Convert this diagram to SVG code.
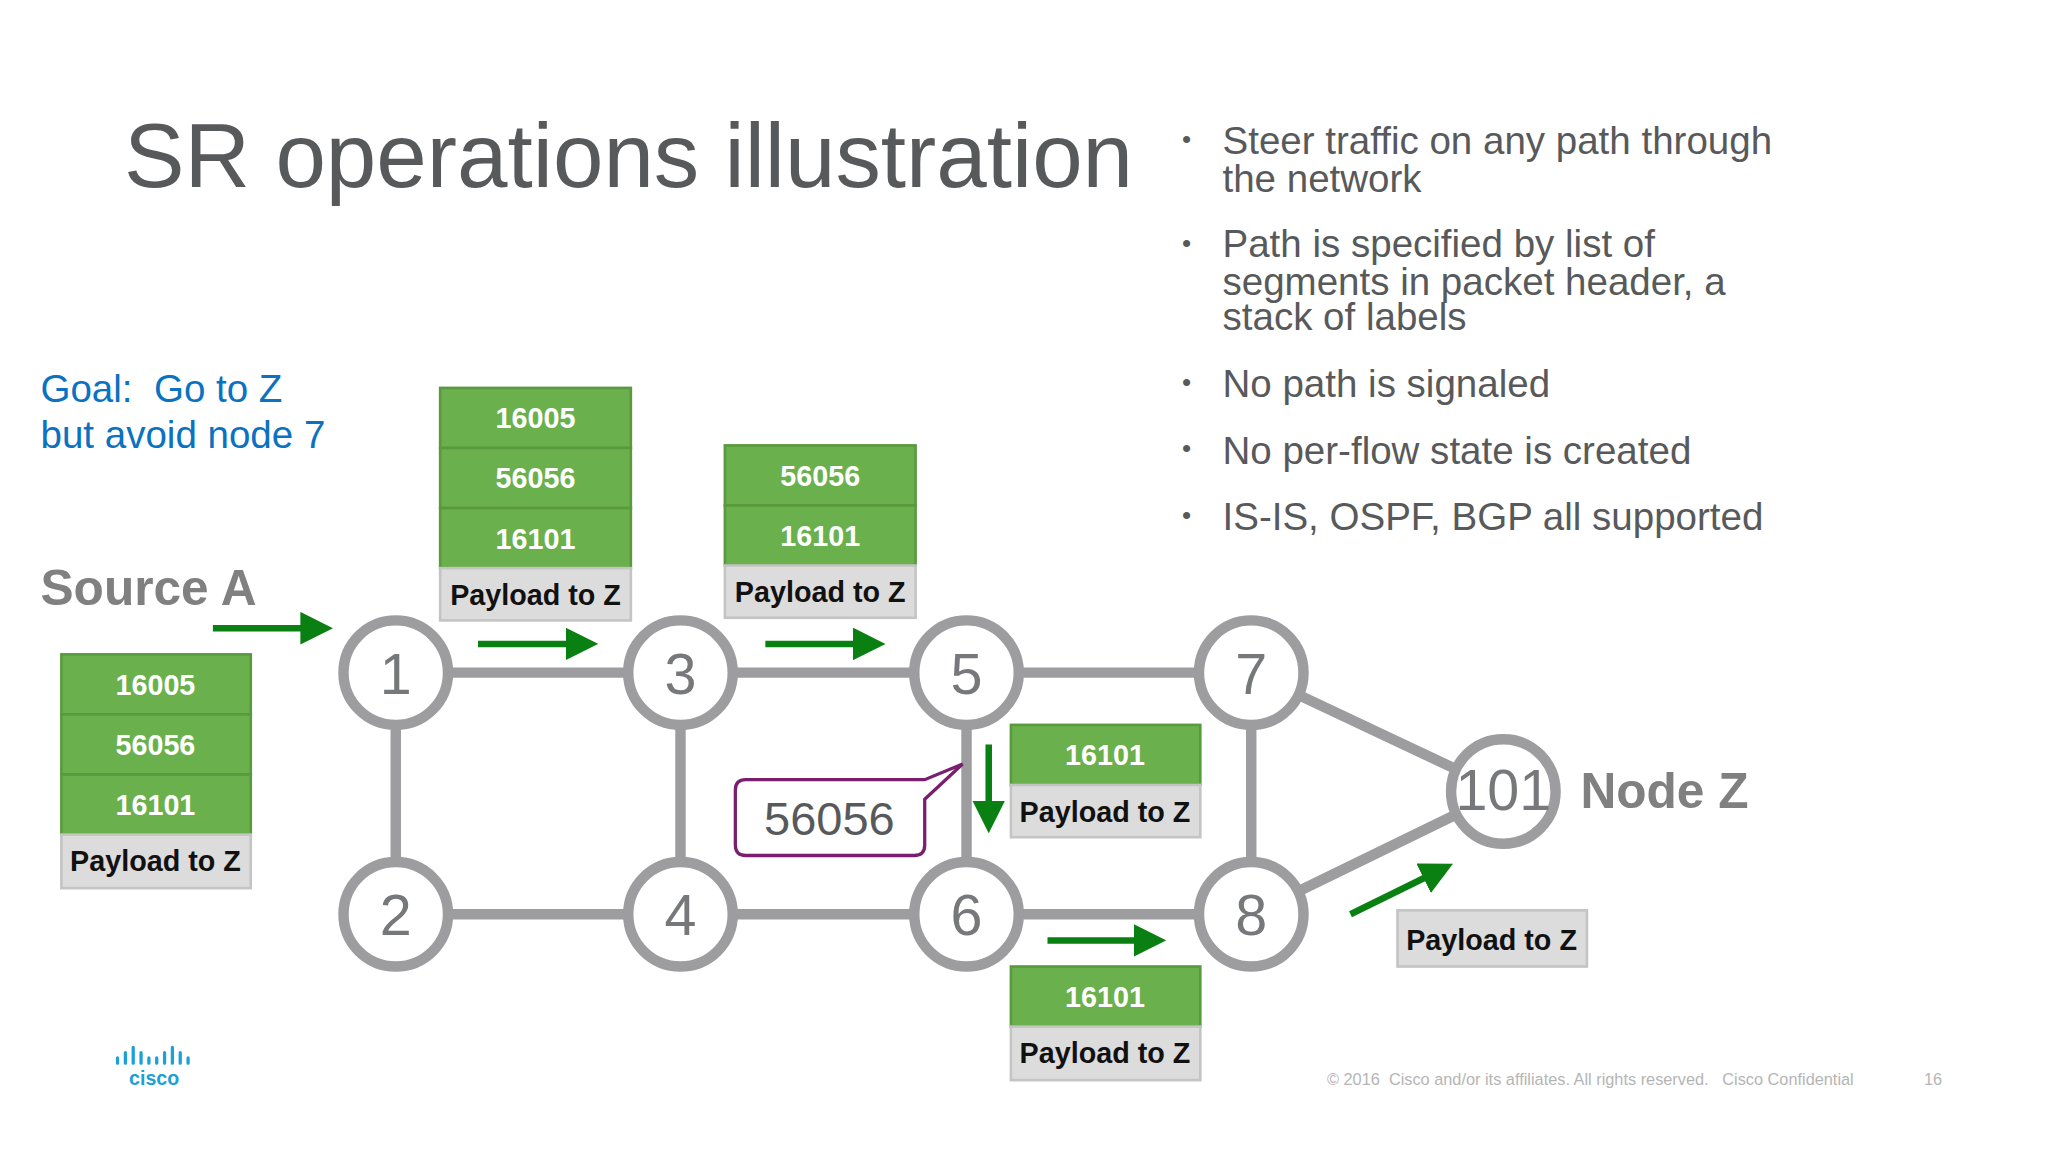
<svg xmlns="http://www.w3.org/2000/svg" width="2048" height="1152" viewBox="0 0 2048 1152">
<style>
.g{fill:#6ab04c;stroke:#5a9a3e;stroke-width:2}
.p{fill:#dcdcdc;stroke:#c4c4c4;stroke-width:2}
.lt{font-family:"Liberation Sans",Arial,sans-serif;font-weight:bold;font-size:22px;fill:#fff;text-anchor:middle}
.pt{font-family:"Liberation Sans",Arial,sans-serif;font-weight:bold;font-size:22px;fill:#111;text-anchor:middle}
.n circle{fill:#fff;stroke:#9d9d9f;stroke-width:8}
.nt{font-family:"Liberation Sans",Arial,sans-serif;font-size:44px;fill:#77787b;text-anchor:middle}
.link{stroke:#9d9d9f;stroke-width:8;fill:none}
.arr{stroke:#0a7f12;stroke-width:5;fill:none;marker-end:url(#ah)}
.b{font-family:"Liberation Sans",Arial,sans-serif;font-size:29.5px;fill:#58595b}
</style>
<defs><marker id="ah" markerWidth="5" markerHeight="5" refX="2" refY="2.5" orient="auto" markerUnits="strokeWidth"><path d="M0,0 L5,2.5 L0,5 z" fill="#0a7f12"/></marker></defs>
<rect width="2048" height="1152" fill="#fff"/>
<g transform="scale(1.3061)">
<text x="95" y="143" font-family="Liberation Sans,Arial,sans-serif" font-size="69.5" fill="#58595b">SR operations illustration</text>
<g class="b">
<text x="905" y="113" font-size="20">•</text><text x="936" y="118">Steer traffic on any path through</text><text x="936" y="147">the network</text>
<text x="905" y="193" font-size="20">•</text><text x="936" y="197">Path is specified by list of</text><text x="936" y="226">segments in packet header, a</text><text x="936" y="253">stack of labels</text>
<text x="905" y="299" font-size="20">•</text><text x="936" y="304">No path is signaled</text>
<text x="905" y="350" font-size="20">•</text><text x="936" y="355">No per-flow state is created</text>
<text x="905" y="401" font-size="20">•</text><text x="936" y="406">IS-IS, OSPF, BGP all supported</text>
</g>
<text x="31" y="308" font-family="Liberation Sans,Arial,sans-serif" font-size="29.5" fill="#0a72c0" xml:space="preserve">Goal:  Go to Z</text>
<text x="31" y="343" font-family="Liberation Sans,Arial,sans-serif" font-size="29.5" fill="#0a72c0">but avoid node 7</text>
<text x="31" y="463" font-family="Liberation Sans,Arial,sans-serif" font-size="38" font-weight="bold" fill="#808080">Source A</text>
<text x="1210" y="619" font-family="Liberation Sans,Arial,sans-serif" font-size="38" font-weight="bold" fill="#808080">Node Z</text>
<g id="links">
<path class="link" d="M303,515H958M303,700H958M303,515V700M521,515V700M740,515V700M958,515V700M958,515L1151,606M958,700L1151,606"/>
</g>
<g id="connectors">
<line class="arr" x1="163" y1="481" x2="240" y2="481"/>
<line class="arr" x1="366" y1="493" x2="443" y2="493"/>
<line class="arr" x1="586" y1="493" x2="663" y2="493"/>
<line class="arr" x1="757" y1="570" x2="757" y2="623"/>
<line class="arr" x1="802" y1="720" x2="878" y2="720"/>
<line class="arr" x1="1034" y1="700" x2="1099" y2="668"/>
</g>
<g id="n1" class="n"><circle cx="303" cy="515" r="40"/><text class="nt" x="303" y="531">1</text></g>
<g id="n3" class="n"><circle cx="521" cy="515" r="40"/><text class="nt" x="521" y="531">3</text></g>
<g id="n5" class="n"><circle cx="740" cy="515" r="40"/><text class="nt" x="740" y="531">5</text></g>
<g id="n7" class="n"><circle cx="958" cy="515" r="40"/><text class="nt" x="958" y="531">7</text></g>
<g id="n2" class="n"><circle cx="303" cy="700" r="40"/><text class="nt" x="303" y="716">2</text></g>
<g id="n4" class="n"><circle cx="521" cy="700" r="40"/><text class="nt" x="521" y="716">4</text></g>
<g id="n6" class="n"><circle cx="740" cy="700" r="40"/><text class="nt" x="740" y="716">6</text></g>
<g id="n8" class="n"><circle cx="958" cy="700" r="40"/><text class="nt" x="958" y="716">8</text></g>
<g id="n101" class="n"><circle cx="1151" cy="606" r="40"/><text class="nt" x="1151" y="620" font-size="37">101</text></g>
<g id="stackA">
<rect class="g" x="47" y="501" width="145" height="46"/><text class="lt" x="119" y="532">16005</text>
<rect class="g" x="47" y="547" width="145" height="46"/><text class="lt" x="119" y="578">56056</text>
<rect class="g" x="47" y="593" width="145" height="46"/><text class="lt" x="119" y="624">16101</text>
<rect class="p" x="47" y="639" width="145" height="41"/><text class="pt" x="119" y="667">Payload to Z</text>
</g>
<g id="stack1">
<rect class="g" x="337" y="297" width="146" height="46"/><text class="lt" x="410" y="328">16005</text>
<rect class="g" x="337" y="343" width="146" height="46"/><text class="lt" x="410" y="374">56056</text>
<rect class="g" x="337" y="389" width="146" height="46"/><text class="lt" x="410" y="420">16101</text>
<rect class="p" x="337" y="435" width="146" height="40"/><text class="pt" x="410" y="463">Payload to Z</text>
</g>
<g id="stack3">
<rect class="g" x="555" y="341" width="146" height="46"/><text class="lt" x="628" y="372">56056</text>
<rect class="g" x="555" y="387" width="146" height="46"/><text class="lt" x="628" y="418">16101</text>
<rect class="p" x="555" y="433" width="146" height="40"/><text class="pt" x="628" y="461">Payload to Z</text>
</g>
<g id="stack5">
<rect class="g" x="774" y="555" width="145" height="46"/><text class="lt" x="846" y="586">16101</text>
<rect class="p" x="774" y="601" width="145" height="40"/><text class="pt" x="846" y="629">Payload to Z</text>
</g>
<g id="stack6">
<rect class="g" x="774" y="740" width="145" height="46"/><text class="lt" x="846" y="771">16101</text>
<rect class="p" x="774" y="786" width="145" height="41"/><text class="pt" x="846" y="814">Payload to Z</text>
</g>
<g id="stack8">
<rect class="p" x="1070" y="697" width="145" height="43"/><text class="pt" x="1142" y="727">Payload to Z</text>
</g>
<g id="callout">
<path d="M571,597 H708 L737,585 L708,612 V647 Q708,655 700,655 H571 Q563,655 563,647 V605 Q563,597 571,597 Z" fill="#fff" stroke="#7a1f6e" stroke-width="2.5"/>
<text x="635" y="639" font-family="Liberation Sans,Arial,sans-serif" font-size="36" fill="#58595b" text-anchor="middle">56056</text>
</g>
<g id="logo" stroke="#1ba0d7" stroke-width="2.5" stroke-linecap="round">
<path d="M90,810v4M96,806v8M102,802v12M108,806v8M114,810v4M120,810v4M126,806v8M132,802v12M138,806v8M144,810v4"/>
</g>
<text x="118" y="831" font-family="Liberation Sans,Arial,sans-serif" font-size="15" font-weight="bold" fill="#1ba0d7" text-anchor="middle">cisco</text>
<text x="1016" y="831" font-family="Liberation Sans,Arial,sans-serif" font-size="12.5" fill="#b5b5b5" xml:space="preserve">© 2016  Cisco and/or its affiliates. All rights reserved.   Cisco Confidential</text>
<text x="1473" y="831" font-family="Liberation Sans,Arial,sans-serif" font-size="12.5" fill="#b5b5b5">16</text>
</g>
</svg>
